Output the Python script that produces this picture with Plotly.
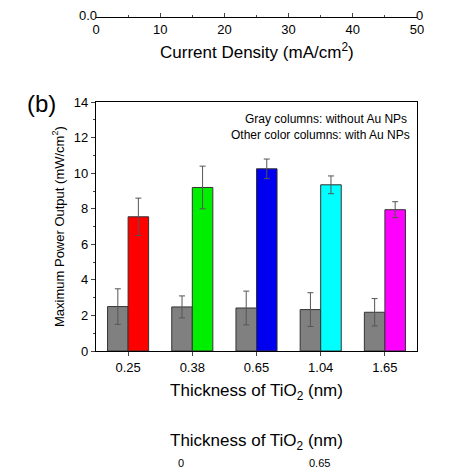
import plotly.graph_objects as go

thickness = ["0.25", "0.38", "0.65", "1.04", "1.65"]
without_au = [2.5, 2.48, 2.42, 2.33, 2.18]
without_err = [1.0, 0.62, 0.95, 0.95, 0.77]
with_au = [7.55, 9.2, 10.25, 9.35, 7.95]
with_err = [1.05, 1.2, 0.55, 0.5, 0.45]
with_colors = ["#ff0000", "#00ee00", "#0000ee", "#00ffff", "#ff00ff"]

top_ticks = [0, 10, 20, 30, 40, 50]

H = 474
DY = 7
font = "Liberation Sans, Arial, sans-serif"


def py(px):
    return (H - (px - DY)) / H


fig = go.Figure()
fig.add_trace(go.Bar(
    x=thickness, y=without_au, marker=dict(color="#808080", line=dict(color="#333", width=1)),
    error_y=dict(type="data", array=without_err, color="#555", thickness=1, width=3),
    showlegend=False,
))
fig.add_trace(go.Bar(
    x=thickness, y=with_au, marker=dict(color=with_colors, line=dict(color="#333", width=1)),
    error_y=dict(type="data", array=with_err, color="#555", thickness=1, width=3),
    showlegend=False,
))

# remnant of the upper panel: x axis only
fig.add_trace(go.Scatter(x=[None], y=[None], xaxis="x2", yaxis="y2", showlegend=False))

fig.update_layout(
    width=H, height=H,
    margin=dict(l=88, r=65, t=0, b=0),
    paper_bgcolor="white", plot_bgcolor="white",
    font=dict(family=font, color="black", size=13),
    barmode="group", bargap=0.36, bargroupgap=0,
    xaxis=dict(
        showline=True, linecolor="black", linewidth=1.3, mirror=True,
        ticks="outside", ticklen=4, tickfont=dict(size=13),
        title=dict(text="Thickness of TiO<sub>2</sub> (nm)", font=dict(size=17), standoff=10),
        anchor="y",
    ),
    yaxis=dict(
        domain=[py(354), py(97)],
        range=[0, 14], dtick=2, showgrid=False, zeroline=False,
        showline=True, linecolor="black", linewidth=1.3, mirror=True,
        ticks="outside", ticklen=4,
        minor=dict(ticks="outside", ticklen=2, dtick=1),
        title=dict(text="Maximum Power Output (mW/cm<sup>2</sup>)", font=dict(size=13), standoff=6),
    ),
    xaxis2=dict(
        range=[0, 50], tickvals=top_ticks, showgrid=False, zeroline=False,
        showline=True, linecolor="black", linewidth=1.3,
        ticks="inside", ticklen=4, minor=dict(ticks="inside", ticklen=2, dtick=5),
        anchor="y2", tickfont=dict(size=13),
    ),
    yaxis2=dict(domain=[0.995, 0.997], visible=False, range=[0, 1]),
)

notes = [
    ("Gray columns: without Au NPs", 0.975, 114),
    ("Other color columns: with Au NPs", 0.985, 131),
]
for text, x, ypx in notes:
    fig.add_annotation(text=text, x=x, y=py(ypx), xref="paper", yref="paper",
                       xanchor="right", yanchor="middle", showarrow=False,
                       font=dict(size=12))

extras = [
    ("Current Density (mA/cm<sup>2</sup>)", 0.5, 44, 17),
    ("0.0", -0.06, 8, 13),
    ("0", 1.025, 8, 13),
    ("(b)", -0.22, 98, 24),
    ("Thickness of TiO<sub>2</sub> (nm)", 0.5, 448, 17),
    ("0", 0.25, 470, 11),
    ("0.65", 0.735, 470, 11),
]
for text, x, ypx, size in extras:
    fig.add_annotation(text=text, x=x, y=py(ypx), xref="paper", yref="paper",
                       showarrow=False, font=dict(size=size), yanchor="middle")

fig.write_html("out.html")
